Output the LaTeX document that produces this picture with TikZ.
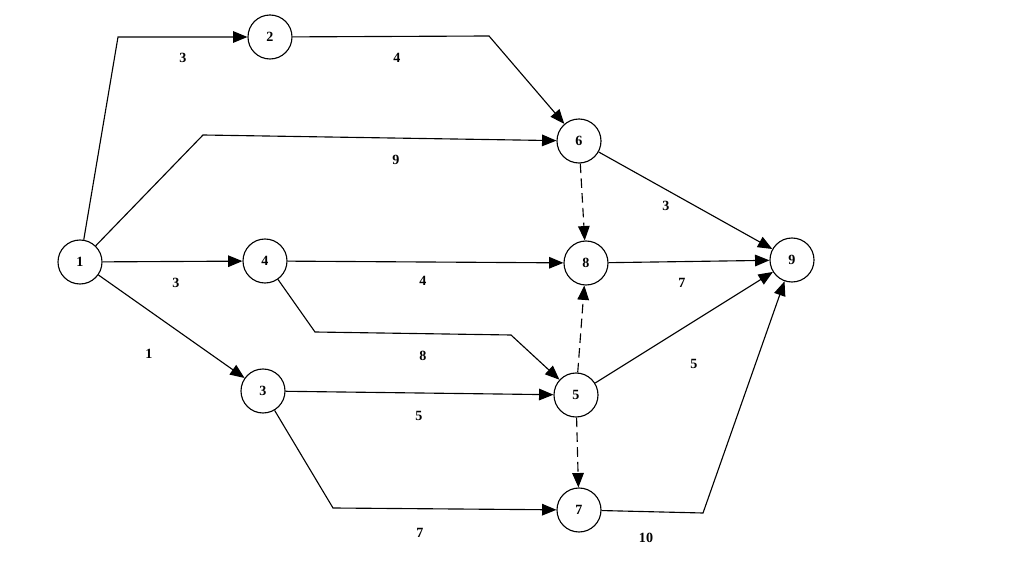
\documentclass[tikz,border=0pt]{standalone}
\usepackage{fontspec}
\setmainfont{Liberation Serif}
\usetikzlibrary{arrows.meta, positioning, calc}

\begin{document}
\begin{tikzpicture}[x=0.025cm, y=-0.025cm,
        event/.style={circle, draw=black, fill=white, line width=0.8pt, minimum size=1.1cm, inner sep=0pt, font=\normalsize\bfseries},
        act/.style={line width=0.8pt, -{Triangle[length=3.6mm, width=2.9mm]}},
        dummy/.style={act, dash pattern=on 2.4mm off 1.3mm},
        wt/.style={font=\normalsize\bfseries}]
        \useasboundingbox (0, 0) rectangle (1024, 582);

        % events
        \node[event] (n1) at (80, 262) {1};
        \node[event] (n2) at (270, 37) {2};
        \node[event] (n3) at (263, 391) {3};
        \node[event] (n4) at (265, 261) {4};
        \node[event] (n5) at (576, 395) {5};
        \node[event] (n6) at (579, 141) {6};
        \node[event] (n7) at (579, 510) {7};
        \node[event] (n8) at (586, 263) {8};
        \node[event] (n9) at (792, 260) {9};

        % bends
        \coordinate (b12) at (118, 37);
        \coordinate (b26) at (489, 36);
        \coordinate (b16) at (203, 135);
        \coordinate (b45) at (315, 332);
        \coordinate (b45r) at (511, 335);
        \coordinate (b37) at (333, 508);
        \coordinate (b79) at (703, 513);

        % activities
        \draw[act] (n1) -- (b12) -- (n2);
        \draw[act] (n2) -- (b26) -- (n6);
        \draw[act] (n1) -- (b16) -- (n6);
        \draw[act] (n1) -- (n4);
        \draw[act] (n1) -- (n3);
        \draw[act] (n4) -- (n8);
        \draw[act] (n4) -- (b45) -- (b45r) -- (n5);
        \draw[act] (n3) -- (n5);
        \draw[act] (n3) -- (b37) -- (n7);
        \draw[act] (n6) -- (n9);
        \draw[act] (n8) -- (n9);
        \draw[act] (n5) -- (n9);
        \draw[act] (n7) -- (b79) -- (n9);
        \draw[dummy] (n6) -- (n8);
        \draw[dummy] (n5) -- (n8);
        \draw[dummy] (n5) -- (n7);

        % durations
        \node[wt] (w12) at (183, 58) {3};
        \node[wt] (w26) at (397, 58) {4};
        \node[wt] (w16) at (396, 160) {9};
        \node[wt] (w69) at (666, 206) {3};
        \node[wt] (w14) at (176, 283) {3};
        \node[wt] (w48) at (423, 281) {4};
        \node[wt] (w89) at (682, 283) {7};
        \node[wt] (w13) at (149, 354) {1};
        \node[wt] (w45) at (423, 356) {8};
        \node[wt] (w59) at (694, 364) {5};
        \node[wt] (w35) at (419, 416) {5};
        \node[wt] (w37) at (420, 533) {7};
        \node[wt] (w79) at (646, 538) {10};
\end{tikzpicture}
\end{document}
